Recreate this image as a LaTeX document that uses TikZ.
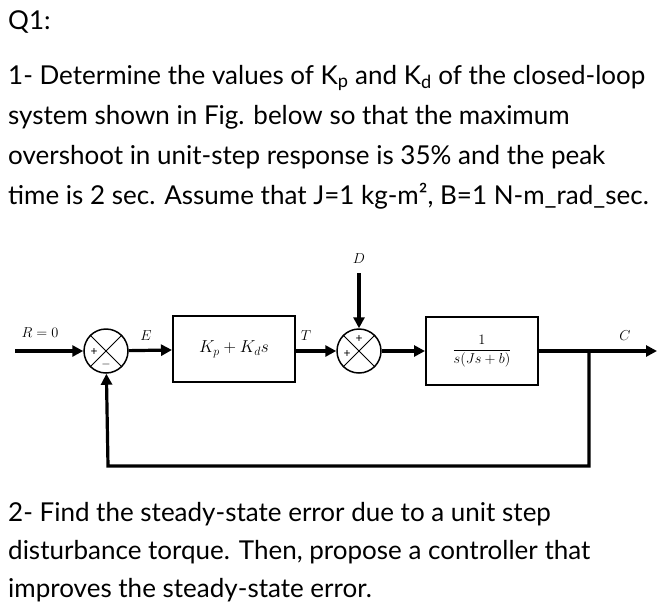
\documentclass[tikz,border=0pt]{standalone}
\usepackage{fontspec}
\setmainfont{Lato}
\usetikzlibrary{arrows.meta}
\begin{document}
\begin{tikzpicture}[x=1pt,y=-1pt,
  txt/.style={anchor=west,font=\fontsize{26}{30}\selectfont,inner sep=0},
  blk/.style={draw,line width=2pt,minimum width=120pt,minimum height=66pt},
  sumj/.style={draw,circle,line width=1.5pt,minimum size=44pt,inner sep=0},
  sig/.style={line width=3.2pt,-{Triangle[length=11pt,width=11pt]}},
  lab/.style={font=\fontsize{15}{16}\selectfont\rmfamily\itshape},
  sgn/.style={font=\fontsize{12}{12}\selectfont\rmfamily}]
\useasboundingbox (0,0) rectangle (663,611);
\node[txt] (q) at (8,22) {Q1:};
\node[txt] (l1) at (8,78) {1- Determine the values of K\textsubscript{p} and K\textsubscript{d} of the closed-loop};
\node[txt] (l2) at (8,117) {system shown in Fig. below so that the maximum};
\node[txt] (l3) at (8,157) {overshoot in unit-step response is 35\% and the peak};
\node[txt] (l4) at (8,196) {time is 2 sec. Assume that J=1 kg-m², B=1 N-m\_rad\_sec.};
\node[txt] (m1) at (8,514) {2- Find the steady-state error due to a unit step};
\node[txt] (m2) at (8,552) {disturbance torque. Then, propose a controller that};
\node[txt] (m3) at (8,590) {improves the steady-state error.};
% diagram
\node[sumj] (s1) at (106,351) {};
\draw[line width=1pt] (s1.north west)--(s1.south east) (s1.north east)--(s1.south west);
\node[sgn] (p1) at (94,352) {+};
\node[sgn] (n1) at (106,364) {$-$};
\node[blk,minimum width=122pt] (b1) at (234,349) {\rmfamily\fontsize{17}{18}\selectfont$K_p+K_ds$};
\node[sumj] (s2) at (359,351) {};
\draw[line width=1pt] (s2.north west)--(s2.south east) (s2.north east)--(s2.south west);
\node[sgn] (p2) at (347,354) {+};
\node[sgn] (p3) at (359,339) {+};
\node[blk,minimum width=112pt,minimum height=68pt] (b2) at (482,351) {\rmfamily\fontsize{14}{15}\selectfont$\displaystyle\frac{1}{s(Js+b)}$};
\coordinate (in) at (15,351);
\coordinate (out) at (657,351);
\coordinate (br) at (589,351);
\coordinate (bl) at (589,466);
\coordinate (fl) at (108,466);
\coordinate (dtop) at (359,273);
\draw[sig] (in) -- (s1);
\draw[sig] (s1) -- (b1);
\draw[sig] (b1.east |- s2) -- (s2);
\draw[sig] (s2) -- (b2);
\draw[sig] (b2) -- (out);
\draw[sig] (dtop) -- (s2);
\draw[sig] (br) -- (bl) -- (fl) -- (s1);
\node[lab] (R) at (40,333) {\upshape$R=0$};
\node[lab] (E) at (146,336) {$E$};
\node[lab] (T) at (306,336) {$T$};
\node[lab] (C) at (625,336) {$C$};
\node[lab] (D) at (359,259) {$D$};
\end{tikzpicture}
\end{document}
